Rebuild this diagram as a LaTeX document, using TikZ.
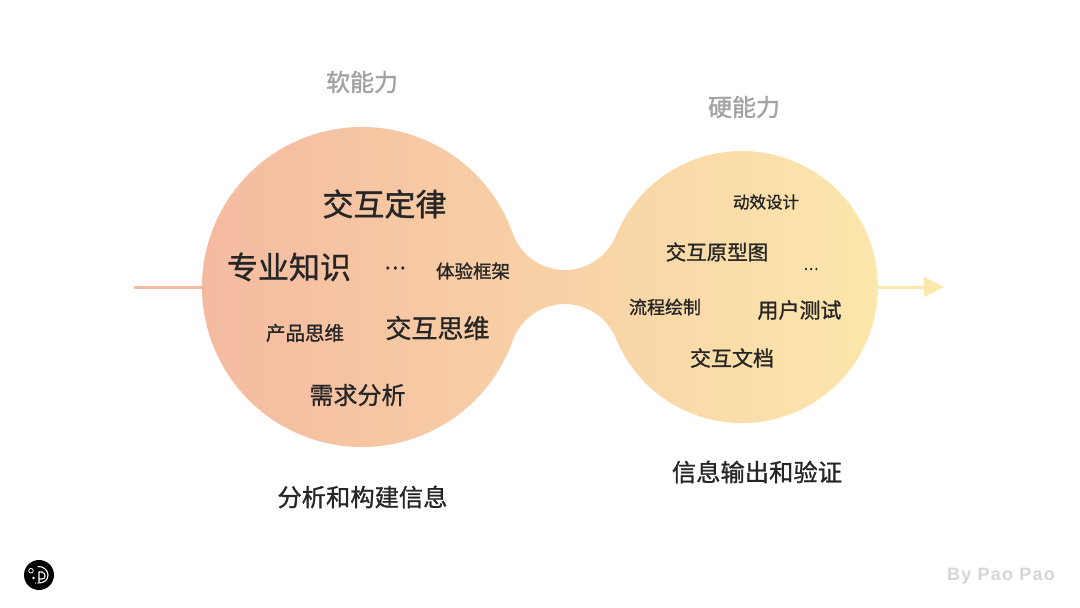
\documentclass[tikz,border=0pt]{standalone}
\usepackage{fontspec}
\setmainfont{Noto Sans CJK SC}[FakeBold=1.1]
\newfontfamily\dotsf{Noto Sans CJK SC}[FakeBold=3]
\newfontfamily\headf{Noto Sans CJK SC}[FakeBold=1.5]
\newfontfamily\latinf{Liberation Sans Bold}[LetterSpace=7]
\definecolor{gradL}{HTML}{F4B9A0}
\definecolor{gradR}{HTML}{FCE8AC}
\definecolor{inkc}{HTML}{262626}
\definecolor{headc}{HTML}{A3A3A3}
\definecolor{byc}{HTML}{D6D6D6}
\tikzset{x=1pt,y=-1pt,
 lab/.style={inner sep=0pt,text=inkc,anchor=center},
 head/.style={inner sep=0pt,text=headc,anchor=center,font=\headf\fontsize{24}{24}\selectfont},
}
\newcommand{\fs}[1]{\fontsize{#1}{#1}\selectfont}
\begin{document}
\begin{tikzpicture}
\useasboundingbox (0,0) rectangle (1080,608);
\coordinate (lstart) at (135,287);
\coordinate (lend) at (205,287);
\coordinate (rstart) at (875,287);
\coordinate (rend) at (926,287);
\coordinate (tipa) at (924,277);
\coordinate (tipb) at (944,287);
\coordinate (tipc) at (924,297);
\draw[gradL,line width=3pt,line cap=round] (lstart) -- (lend);
\draw[gradR,line width=3pt] (rstart) -- (rend);
\fill[gradR] (tipa) -- (tipb) -- (tipc) -- cycle;
\begin{scope}[y=1pt,yshift=-608pt]
\shade[left color=gradL,right color=gradR]
 ({362+160*cos(19.63)},{321+160*sin(19.63)})
 arc[start angle=19.63,end angle=340.37,radius=160pt]
 arc[start angle=160.37,end angle=22.2,radius=55.3pt]
 arc[start angle=202.2,end angle=517.8,radius=136pt]
 arc[start angle=-22.2,end angle=-160.37,radius=55.3pt]
 -- cycle;
\end{scope}
\node[head] (soft) at (362,82) {软能力};
\node[head] (hard) at (744,107) {硬能力};
\node[lab,font=\fs{31}] (n1) at (384.5,204) {交互定律};
\node[lab,font=\fs{31}] (n2) at (289,267) {专业知识};
\node[lab,font=\dotsf\fs{20}] (n3) at (395,268) {…};
\node[lab,font=\fs{18.5}] (n4) at (473,271) {体验框架};
\node[lab,font=\fs{19.5}] (n5) at (305,333) {产品思维};
\node[lab,font=\fs{26}] (n6) at (437.5,328) {交互思维};
\node[lab,font=\fs{24}] (n7) at (357.5,395) {需求分析};
\node[lab,font=\fs{16.5}] (n8) at (766,202) {动效设计};
\node[lab,font=\fs{20.5}] (n9) at (717,252) {交互原型图};
\node[lab,font=\dotsf\fs{14}] (n10) at (811,269) {…};
\node[lab,font=\fs{18}] (n11) at (665,307) {流程绘制};
\node[lab,font=\fs{21}] (n12) at (799.5,310) {用户测试};
\node[lab,font=\fs{21}] (n13) at (732,358) {交互文档};
\node[lab,font=\fs{24.3}] (cap1) at (362.5,497) {分析和构建信息};
\node[lab,font=\fs{24.3}] (cap2) at (757,472) {信息输出和验证};
\node[inner sep=0pt,text=byc,font=\latinf\fs{18},anchor=center] (by) at (1001,576) {By Pao Pao};
\fill[black] (39,575) circle[radius=15];
\draw[white,line width=0.8pt] (31,570.7) circle[radius=2.3];
\fill[white] (33.5,578) circle[radius=1.3];
\fill[white] (35.5,583) circle[radius=0.6];
\draw[white,line width=1.1pt,line cap=round] (38,566.5) .. controls (44,566) and (48,571) .. (48,575) .. controls (48,581) and (43,583) .. (38,583);
\draw[white,line width=1.1pt,line cap=round] (39,582) -- (39,572) -- (42,572) .. controls (46,573) and (46,579) .. (42,579) -- (39,579);
\end{tikzpicture}
\end{document}
